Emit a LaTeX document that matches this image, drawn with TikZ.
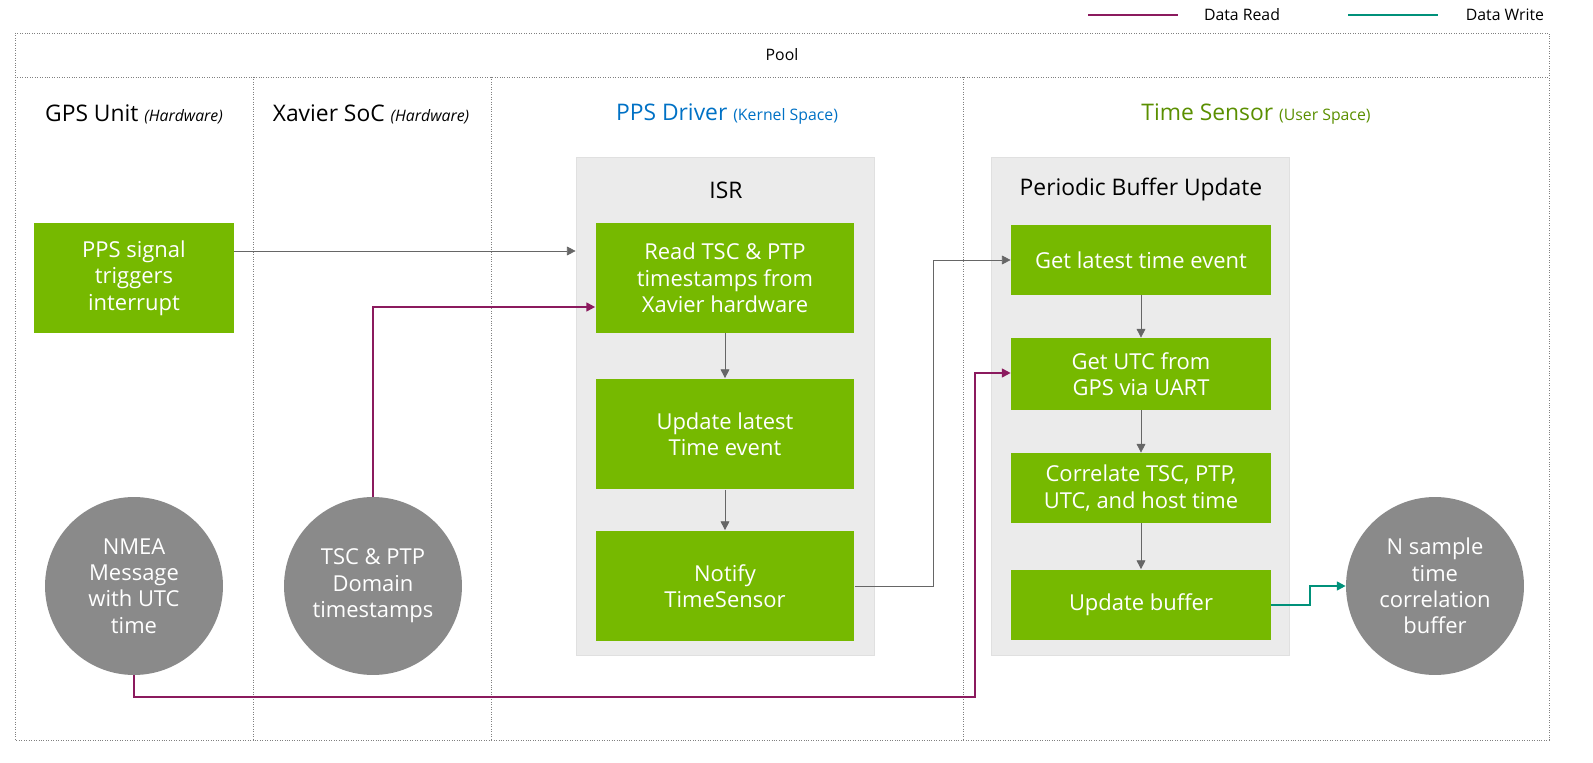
\documentclass[tikz,border=0pt]{standalone}
\usepackage{fontspec}
\setmainfont{Open Sans}
\usetikzlibrary{positioning,arrows.meta,calc}
\definecolor{nvgreen}{HTML}{76B900}
\definecolor{readcol}{HTML}{8B1A5E}
\definecolor{writecol}{HTML}{00917A}
\definecolor{panelgrey}{HTML}{EBEBEB}
\definecolor{circgrey}{HTML}{8A8A8A}
\definecolor{kernelblue}{HTML}{0071C5}
\definecolor{usergreen}{HTML}{5A8F00}
\tikzset{
    task/.style = {
        fill=nvgreen,
        shape=rectangle,
        text=white,
        align=center,
        font=\fontsize{12.5}{15}\selectfont,
        inner sep=0pt
    },
    data/.style = {
        fill=circgrey,
        shape=circle,
        text=white,
        align=center,
        minimum size=3.56cm,
        inner sep=0pt,
        font=\fontsize{12.5}{15}\selectfont
    },
    panel/.style = {
        fill=panelgrey,
        draw=black!12,
        shape=rectangle,
        inner sep=0pt
    },
    heading/.style = {
        font=\fontsize{13}{15}\selectfont
    },
    flow/.style = {draw, black!60, -{Triangle[length=5pt,width=5pt]}},
    read/.style = {draw, readcol, line width=1pt, -{Triangle[length=5pt,width=5pt]}},
    write/.style = {draw, writecol, line width=1pt, -{Triangle[length=5pt,width=5pt]}},
    divider/.style = {densely dotted, black!50}
}

\begin{document}
\begin{tikzpicture}[x=0.02cm, y=-0.02cm]

            \useasboundingbox (0,0) rectangle (1593,763);

            % legend
            \draw[readcol, line width=1pt] (1088,15) -- (1178,15);
            \node[heading, font=\small] at (1242,15) {Data Read};
            \draw[writecol, line width=1pt] (1348,15) -- (1438,15);
            \node[heading, font=\small] at (1505,15) {Data Write};

            % pool and lanes
            \draw[divider] (15,33) rectangle (1549,740);
            \draw[divider] (15,77) -- (1549,77);
            \draw[divider] (253,77) -- (253,740);
            \draw[divider] (491,77) -- (491,740);
            \draw[divider] (963,77) -- (963,740);
            \node[font=\small] at (782,55) {Pool};

            \node[heading] at (134,114) {GPS Unit \textit{\small(Hardware)}};
            \node[heading] at (371,114) {Xavier SoC \textit{\small(Hardware)}};
            \node[heading, text=kernelblue] at (727,114) {PPS Driver {\small(Kernel Space)}};
            \node[heading, text=usergreen] at (1256,114) {Time Sensor {\small(User Space)}};

            % panels
            \node[panel, minimum width=5.96cm, minimum height=9.96cm] (isr) at (725,406) {};
            \node[panel, minimum width=5.96cm, minimum height=9.96cm] (periodic) at (1140,406) {};
            \node[heading] at (726,190) {ISR};
            \node[heading] at (1141,190) {Periodic Buffer Update};

            % tasks
            \node[task, minimum width=4cm, minimum height=2.2cm] (pps) at (134,278) {PPS signal\\triggers\\interrupt};
            \node[task, minimum width=5.18cm, minimum height=2.2cm] (read_tsc) at (725,278) {Read TSC \& PTP\\timestamps from\\Xavier hardware};
            \node[task, minimum width=5.18cm, minimum height=2.22cm] (update_event) at (725,434) {Update latest\\Time event};
            \node[task, minimum width=5.18cm, minimum height=2.22cm] (notify) at (725,586) {Notify\\TimeSensor};

            \node[task, minimum width=5.2cm, minimum height=1.4cm] (get_latest) at (1141,260) {Get latest time event};
            \node[task, minimum width=5.2cm, minimum height=1.44cm] (get_utc) at (1141,374) {Get UTC from\\GPS via UART};
            \node[task, minimum width=5.2cm, minimum height=1.4cm] (correlate) at (1141,488) {Correlate TSC, PTP,\\UTC, and host time};
            \node[task, minimum width=5.2cm, minimum height=1.42cm] (update_buf) at (1141,605) {Update buffer};

            % data
            \node[data] (nmea) at (134,586) {NMEA\\Message\\with UTC\\time};
            \node[data] (domain) at (373,586) {TSC \& PTP\\Domain\\timestamps};
            \node[data] (nsample) at (1435,586) {N sample\\time\\correlation\\buffer};

            % connectors
            \path[flow] (pps.east |- 0,251) -- (isr.west |- 0,251);
            \path[read] (domain.north) |- (read_tsc.west |- 0,307);
            \path[flow] (read_tsc) -- (update_event);
            \path[flow] (update_event) -- (notify);
            \path[flow] (notify.east) -| (933,260) -- (get_latest.west);
            \path[flow] (get_latest) -- (get_utc);
            \path[flow] (get_utc) -- (correlate);
            \path[flow] (correlate) -- (update_buf);
            \path[read] (nmea.south) |- (975,697) |- (get_utc.west |- 0,373);
            \path[write] (update_buf.east) -| (1310,586) -- (nsample.west);

        \end{tikzpicture}
\end{document}
